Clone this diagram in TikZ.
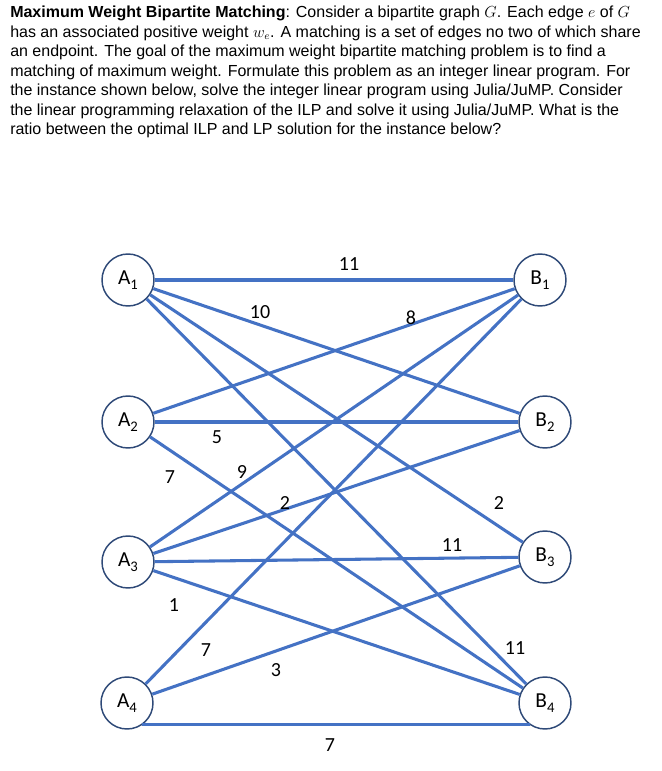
\documentclass[tikz,border=0pt]{standalone}
\usepackage{fontspec}
\setmainfont{Liberation Sans}
\newfontfamily\calib{Carlito}
\newcommand{\sbx}[1]{\raisebox{-0.25em}{\fontsize{11}{11}\selectfont #1}}
\begin{document}
\begin{tikzpicture}[x=0.75pt,y=-0.75pt]
\definecolor{eb}{HTML}{4472C4}
\definecolor{nb}{HTML}{2F4A78}
\tikzset{
  vtx/.style={circle,draw=nb,line width=1.1pt,fill=white,minimum size=39pt,inner sep=0pt,font=\calib\fontsize{16}{16}\selectfont},
  edge/.style={draw=eb,line width=2.3pt},
  wt/.style={font=\calib\fontsize{15}{15}\selectfont,inner sep=0pt}}
\useasboundingbox (0,0) rectangle (661,771);
\node[anchor=north west,align=left,inner sep=0pt,font=\fontsize{12}{14.6}\selectfont] (txt) at (10,6) {%
\textbf{Maximum Weight Bipartite Matching}: Consider a bipartite graph $G$. Each edge $e$ of $G$\\
has an associated positive weight $w_e$. A matching is a set of edges no two of which share\\
an endpoint. The goal of the maximum weight bipartite matching problem is to find a\\
matching of maximum weight. Formulate this problem as an integer linear program. For\\
the instance shown below, solve the integer linear program using Julia/JuMP. Consider\\
the linear programming relaxation of the ILP and solve it using Julia/JuMP. What is the\\
ratio between the optimal ILP and LP solution for the instance below?};
\node[vtx] (A1) at (128,280) {A\sbx{1}};
\node[vtx] (A2) at (128,422) {A\sbx{2}};
\node[vtx] (A3) at (128,562) {A\sbx{3}};
\node[vtx] (A4) at (127,703) {A\sbx{4}};
\node[vtx] (B1) at (540,280) {B\sbx{1}};
\node[vtx] (B2) at (545,422) {B\sbx{2}};
\node[vtx] (B3) at (545,557) {B\sbx{3}};
\node[vtx] (B4) at (545,703) {B\sbx{4}};
\foreach \a/\b in {A1/B1,A1/B2,A1/B3,A1/B4,A2/B1,A2/B2,A2/B4,A3/B1,A3/B2,A3/B3,A3/B4,A4/B1,A4/B3}
  \draw[edge] (\a) -- (\b);
\draw[edge] (A4.-55) -- (B4.-125);
\node[wt] (w1) at (349,264) {11};
\node[wt] (w2) at (260,312) {10};
\node[wt] (w3) at (411,318) {8};
\node[wt] (w4) at (217,437) {5};
\node[wt] (w5) at (170,477) {7};
\node[wt] (w6) at (242,472) {9};
\node[wt] (w7) at (285,503) {2};
\node[wt] (w8) at (499,503) {2};
\node[wt] (w9) at (452,545) {11};
\node[wt] (w10) at (174,605) {1};
\node[wt] (w11) at (206,650) {7};
\node[wt] (w12) at (276,670) {3};
\node[wt] (w13) at (515,648) {11};
\node[wt] (w14) at (330,745) {7};
\end{tikzpicture}
\end{document}
